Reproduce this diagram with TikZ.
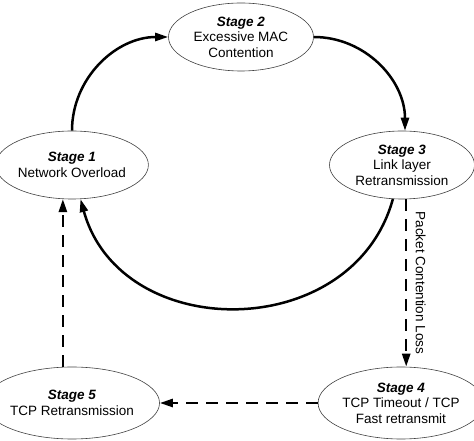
\documentclass[tikz,border=0pt]{standalone}
\usepackage{fontspec}
\setmainfont{Liberation Sans}
\usetikzlibrary{shapes.geometric,arrows.meta}

\begin{document}
\begin{tikzpicture}[x=1pt, y=1pt,
    stage/.style={ellipse, draw=black!75, line width=0.6pt, minimum width=145pt,
        minimum height=68pt, inner sep=0pt, align=center,
        font=\fontsize{13.5}{15.5}\selectfont},
    flow/.style={line width=2.5pt, -{Triangle[length=13pt,width=8pt]}},
    loss/.style={flow, dash pattern=on 12pt off 8pt}]
    \useasboundingbox (0,0) rectangle (474,441);
    \node[stage] (s2) at (241,404) {\textbf{\textit{Stage 2}}\\Excessive MAC\\Contention};
    \node[stage] (s1) at (72,276) {\textbf{\textit{Stage 1}}\\Network Overload};
    \node[stage] (s3) at (402,276) {\textbf{\textit{Stage 3}}\\Link layer\\Retransmission};
    \node[stage, minimum height=72pt] (s5) at (72,38) {\textbf{\textit{Stage 5}}\\TCP Retransmission};
    \node[stage, minimum width=140pt, minimum height=72pt] (s4) at (401,38)
        {\textbf{\textit{Stage 4}}\\TCP Timeout / TCP\\Fast retransmit};
    % the loop
    \draw[flow] (s1.north) to[out=90, in=180] (s2.west);
    \draw[flow] (s2.east) to[out=0, in=90] (s3.85);
    \draw[flow] (s3.255) .. controls +(-40,-145) and +(40,-145) .. (s1.284);
    % the dashed way out
    \draw[loss] (s3.277) -- (s3.277 |- s4.north)
        node[midway, sloped, above=5pt, font=\fontsize{13.5}{15.5}\selectfont] {Packet Contention Loss};
    \draw[loss] (s4.west) -- (s5.east);
    \draw[loss] (s5.north -| s1.255) -- (s1.255);
\end{tikzpicture}
\end{document}
